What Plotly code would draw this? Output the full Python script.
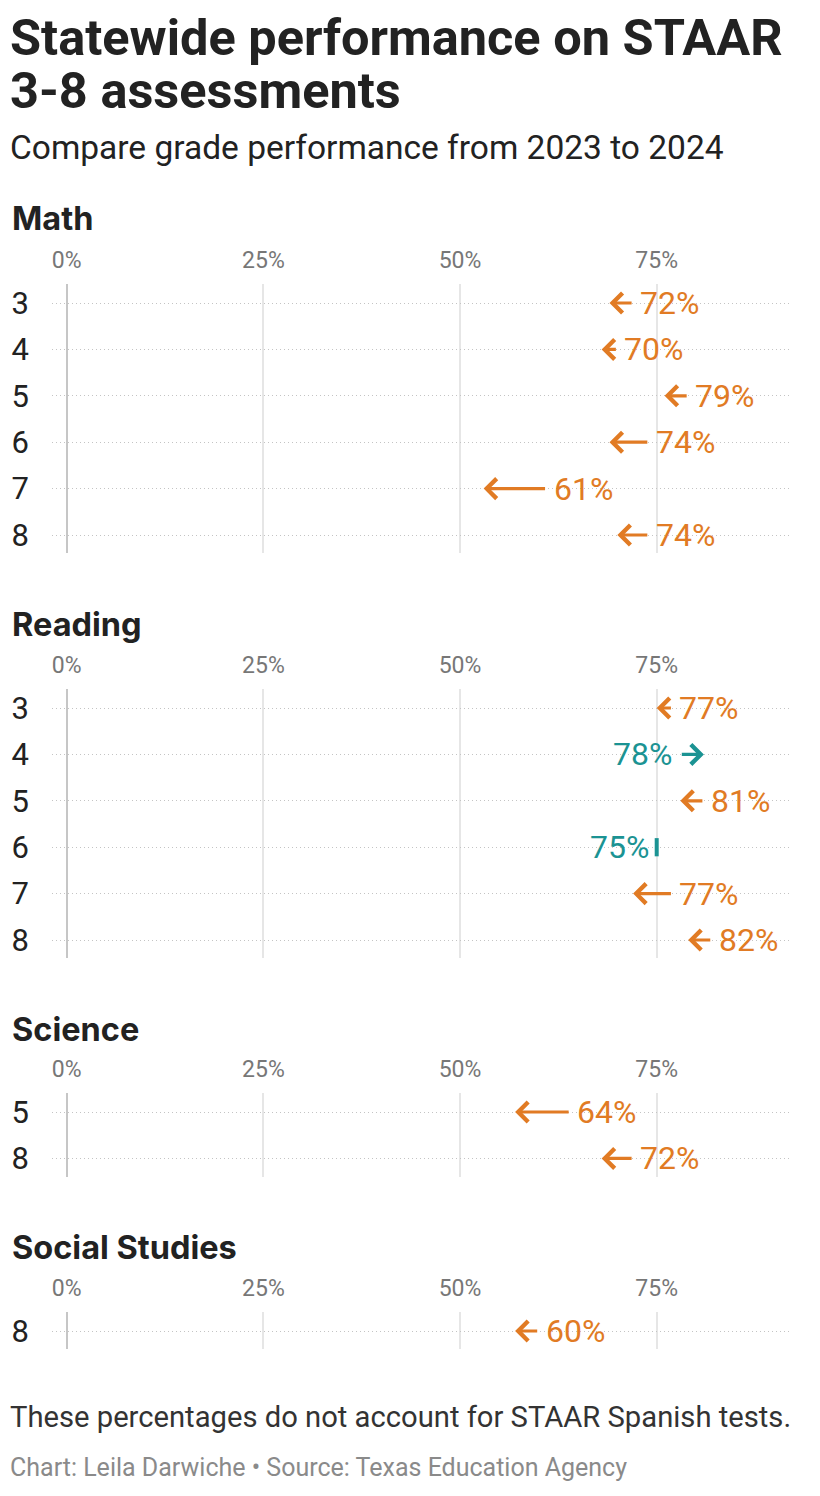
import plotly.graph_objects as go

W, H = 820, 1496

# ---------------- data ----------------
subjects = ["Math", "Reading", "Science", "Social Studies"]

math_grades = ["3", "4", "5", "6", "7", "8"]
math_2023 = [72, 70, 79, 74, 61, 74]
math_2024 = [69, 68, 76, 69, 53, 70]

reading_grades = ["3", "4", "5", "6", "7", "8"]
reading_2023 = [77, 78, 81, 75, 77, 82]
reading_2024 = [75, 81, 78, 75, 72, 79]

science_grades = ["5", "8"]
science_2023 = [64, 72]
science_2024 = [57, 68]

social_grades = ["8"]
social_2023 = [60]
social_2024 = [57]

x_tickvals = [0, 25, 50, 75]
x_ticktext = ["0%", "25%", "50%", "75%"]

title_lines = ["Statewide performance on STAAR", "3-8 assessments"]
subtitle = "Compare grade performance from 2023 to 2024"
footnote = "These percentages do not account for STAAR Spanish tests."
credit = "Chart: Leila Darwiche \u2022 Source: Texas Education Agency"

panels = [
    (subjects[0], math_grades, math_2023, math_2024),
    (subjects[1], reading_grades, reading_2023, reading_2024),
    (subjects[2], science_grades, science_2023, science_2024),
    (subjects[3], social_grades, social_2023, social_2024),
]

# ---------------- style ----------------
FONT = "Roboto"
ORANGE = "#e17b24"
TEAL = "#1b9393"
DARK = "#222222"
GREY = "#777777"

panel_tops = [284, 689, 1093, 1312]      # pixel top of each plot area
header_y = [218, 625, 1029, 1247]        # pixel centre of subject headers
ROW_PX = 46.4
PAD_TOP, PAD_BOT = 0.41, 0.39
X_L, X_R = 52, 790                       # plot area in pixels
ZERO_PX, PX_PER_PCT = 66.7, (656.7 - 66.7) / 75.0
x_range = [(X_L - ZERO_PX) / PX_PER_PCT, (X_R - ZERO_PX) / PX_PER_PCT]

def py(p):
    return 1 - p / H

def px(p):
    return p / W

fig = go.Figure()
layout = dict(
    width=W, height=H, margin=dict(l=0, r=0, t=0, b=0),
    paper_bgcolor="white", plot_bgcolor="white", showlegend=False,
    font=dict(family=FONT, color=DARK),
)
annotations = []

for i, (name, grades, v23, v24) in enumerate(panels):
    k = "" if i == 0 else str(i + 1)
    xa, ya = "x" + k, "y" + k
    n = len(grades)
    top = panel_tops[i]
    bot = top + (n - 1 + PAD_TOP + PAD_BOT) * ROW_PX
    rows = list(range(n))

    layout["xaxis" + k] = dict(
        domain=[px(X_L), px(X_R)], anchor=ya, side="top", range=x_range,
        tickvals=x_tickvals, ticktext=x_ticktext, ticks="",
        tickfont=dict(size=23, color=GREY, family=FONT),
        ticklabelstandoff=10,
        showgrid=True, gridcolor="#e6e6e6", gridwidth=1.6,
        zeroline=True, zerolinecolor="#c6c6c6", zerolinewidth=1.6,
        showline=False, fixedrange=True,
    )
    layout["yaxis" + k] = dict(
        domain=[py(bot), py(top)], anchor=xa,
        range=[n - 1 + PAD_BOT, -PAD_TOP],
        tickvals=rows, ticktext=grades, ticks="",
        tickfont=dict(size=31, color=DARK, family=FONT),
        ticklabelstandoff=22,
        showgrid=True, gridcolor="#c4c4c4", gridwidth=1, griddash="1.3px,2.7px",
        zeroline=False, showline=False, fixedrange=True,
    )

    # invisible anchor trace so the subplot exists
    fig.add_trace(go.Scatter(x=v24, y=rows, xaxis=xa, yaxis=ya, mode="markers",
                             marker=dict(opacity=0), hoverinfo="skip"))

    # no-change ticks
    same_x = [a for a, b in zip(v23, v24) if a == b]
    same_y = [r for r, a, b in zip(rows, v23, v24) if a == b]
    if same_x:
        fig.add_trace(go.Scatter(x=same_x, y=same_y, xaxis=xa, yaxis=ya, mode="markers",
                                 marker=dict(symbol="line-ns", size=13,
                                             line=dict(width=4, color=TEAL)),
                                 hoverinfo="skip"))

    for r, a, b in zip(rows, v23, v24):
        color = ORANGE if b < a else TEAL
        if a != b:
            annotations.append(dict(
                x=b, y=r, ax=a, ay=r, xref=xa, yref=ya, axref=xa, ayref=ya,
                text="", showarrow=True, arrowhead=4, arrowsize=1.2,
                arrowwidth=3.2, arrowcolor=color, standoff=0, startstandoff=0,
            ))
        left_side = b >= a
        annotations.append(dict(
            x=a, y=r, xref=xa, yref=ya, text=f"{a}%", showarrow=False,
            xanchor="right" if left_side else "left",
            xshift=-6 if left_side else 5, yanchor="middle",
            font=dict(size=32, color=color, family=FONT),
        ))

    annotations.append(dict(
        x=px(10), y=py(header_y[i]), xref="paper", yref="paper", text=f"<b>{name}</b>",
        showarrow=False, xanchor="left", yanchor="middle",
        font=dict(size=32.5, color=DARK, family="Inter"),
    ))

# titles and notes
annotations += [
    dict(x=px(8), y=py(38), xref="paper", yref="paper", text=f"<b>{title_lines[0]}</b>",
         showarrow=False, xanchor="left", yanchor="middle",
         font=dict(size=50.5, color=DARK, family=FONT)),
    dict(x=px(8), y=py(90), xref="paper", yref="paper", text=f"<b>{title_lines[1]}</b>",
         showarrow=False, xanchor="left", yanchor="middle",
         font=dict(size=50.5, color=DARK, family=FONT)),
    dict(x=px(8), y=py(148), xref="paper", yref="paper", text=subtitle,
         showarrow=False, xanchor="left", yanchor="middle",
         font=dict(size=33.5, color=DARK, family=FONT)),
    dict(x=px(8), y=py(1417), xref="paper", yref="paper", text=footnote,
         showarrow=False, xanchor="left", yanchor="middle",
         font=dict(size=29.2, color="#333333", family=FONT)),
    dict(x=px(8), y=py(1467), xref="paper", yref="paper", text=credit,
         showarrow=False, xanchor="left", yanchor="middle",
         font=dict(size=25, color="#8a8a8a", family=FONT)),
]
layout["annotations"] = annotations
fig.update_layout(**layout)
fig.write_html("out.html")
